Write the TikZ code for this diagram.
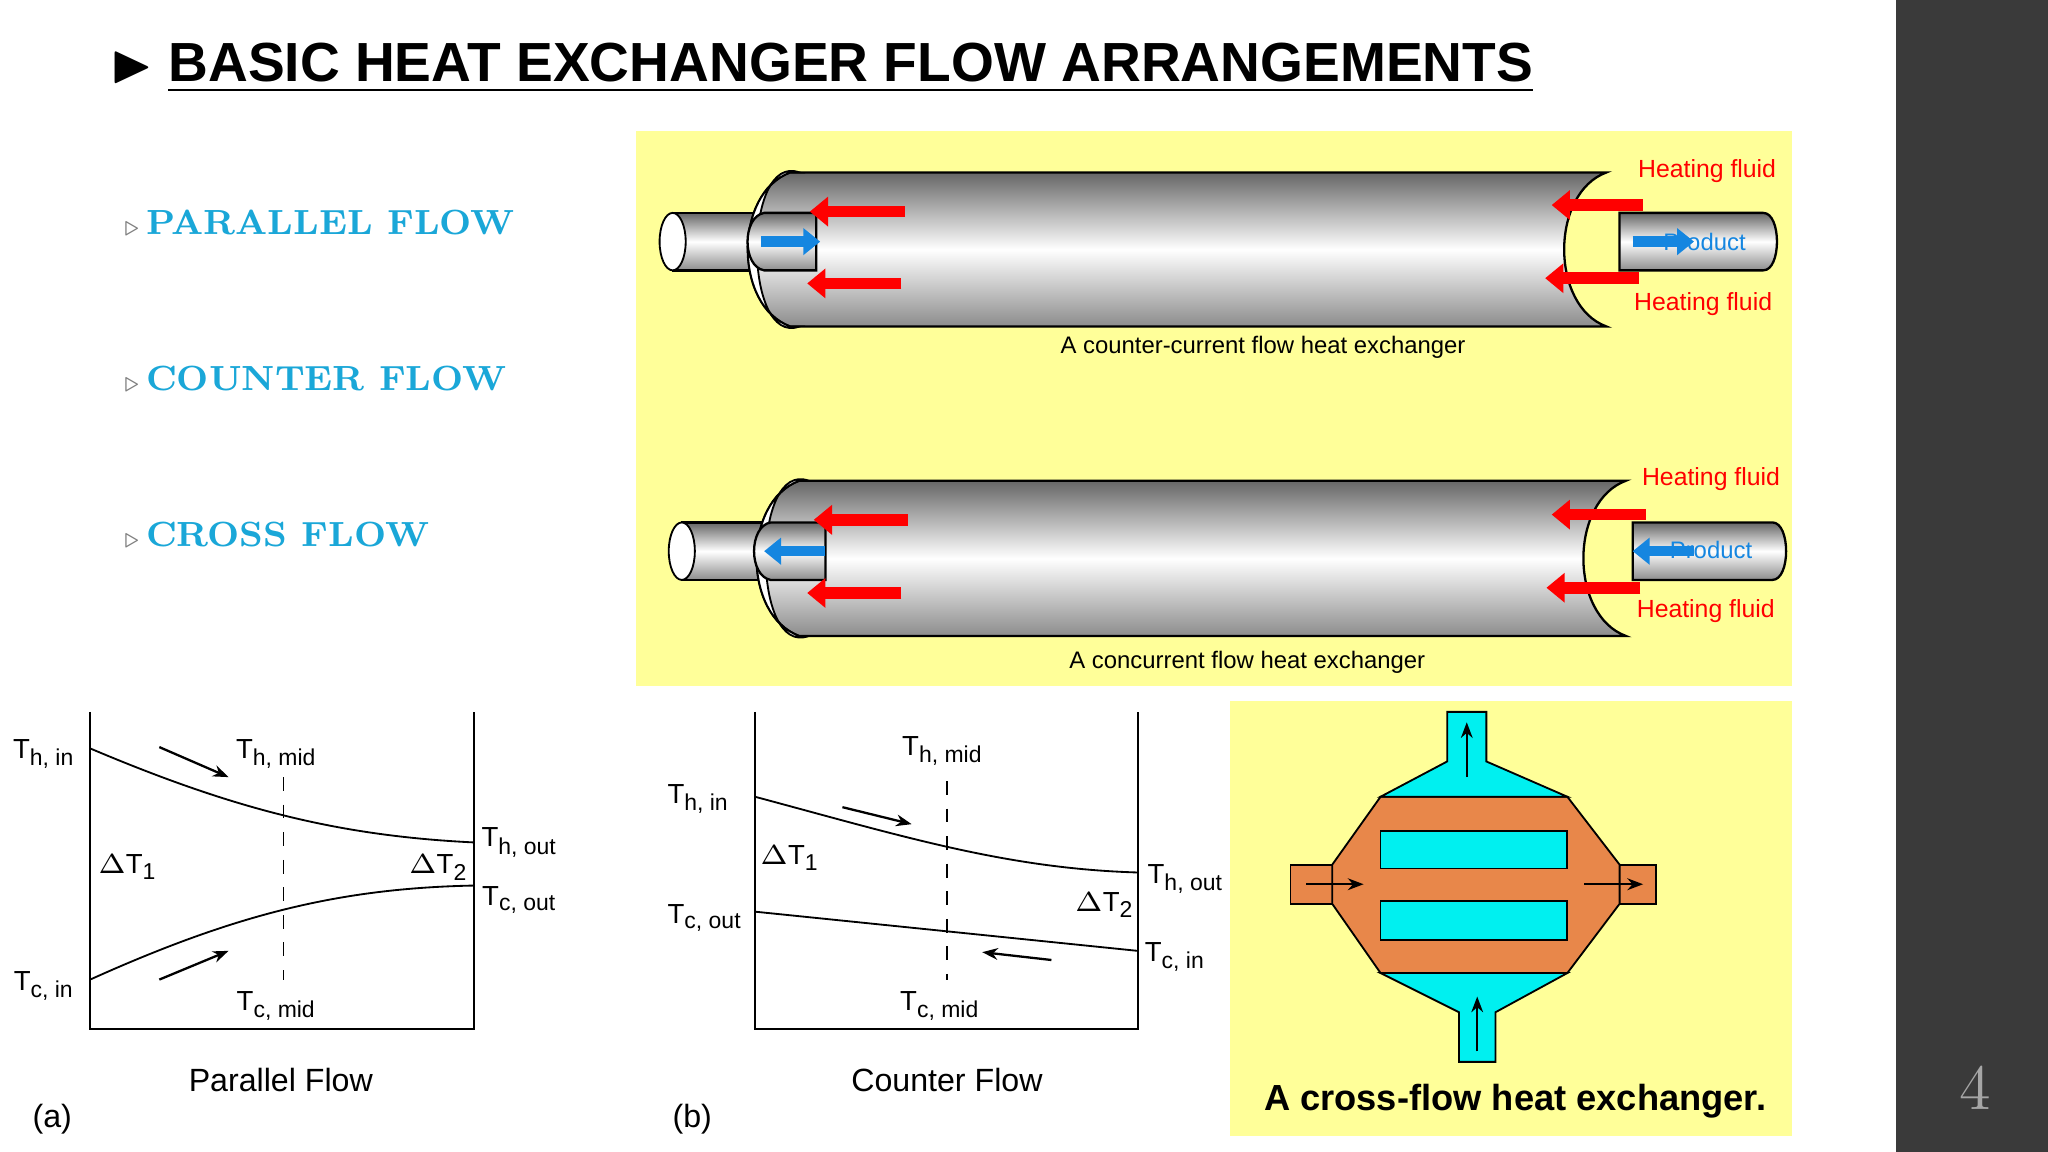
\documentclass[tikz,border=0pt]{standalone}
\usepackage{fontspec}
\usepackage{amssymb}
\newfontfamily\sansf{Liberation Sans}
\usetikzlibrary{arrows.meta}
\definecolor{hexyellow}{HTML}{FFFF99}
\definecolor{flowcyan}{HTML}{1AA7D8}
\definecolor{hexorange}{HTML}{E8874A}
\definecolor{hexcyan}{HTML}{00F0F0}
\definecolor{darkside}{HTML}{3A3A3A}
\tikzset{
  tube/.style={draw=black, line width=0.5pt, top color=black!60, bottom color=black!45, middle color=white},
  hotarrow/.style={red, line width=0.09cm, -{Triangle[width=0.22cm,length=0.14cm]}},
  prodarrow/.style={flowcyan!80!blue, line width=0.08cm, -{Triangle[width=0.2cm,length=0.13cm]}},
  fluidlabel/.style={red, font=\sansf\fontsize{5.4}{6}\selectfont},
  caption/.style={font=\sansf\fontsize{5.2}{6}\selectfont},
  plotlabel/.style={font=\sansf\fontsize{6}{7}\selectfont},
  itemlabel/.style={flowcyan, anchor=west, font=\bfseries\fontsize{7.6}{9}\selectfont},
  smallarrow/.style={-{Stealth[length=0.12cm]}, line width=0.5pt},
}
\begin{document}
\begin{tikzpicture}[x=0.01cm,y=-0.01cm]
\useasboundingbox (0,0) rectangle (1568,882);
\fill[white] (0,0) rectangle (1452,882);
\fill[darkside] (1452,0) rectangle (1568,882);
\node[gray!70, font=\fontsize{14}{16}\selectfont] (pagenum) at (1512,833) {4};
% title
\node[anchor=west, font=\sansf\bfseries\fontsize{12}{13}\selectfont] (title) at (72,52) {\large$\blacktriangleright$\ \underline{BASIC HEAT EXCHANGER FLOW ARRANGEMENTS}};
% items
\node[itemlabel] (parallel) at (82,170) {{\color{gray}\tiny$\triangleright$}\,PARALLEL FLOW};
\node[itemlabel] (counter) at (82,290) {{\color{gray}\tiny$\triangleright$}\,COUNTER FLOW};
\node[itemlabel] (cross) at (82,409) {{\color{gray}\tiny$\triangleright$}\,CROSS FLOW};
% yellow panel
\fill[hexyellow] (487,100) rectangle (1372,525);
% counter-current tube
\draw[tube] (515,163) -- (620,163) -- (620,207) -- (515,207) -- cycle;
\draw[fill=white] (515,185) ellipse [x radius=10, y radius=22];
\draw[tube] (605,132) -- (1230,132) to[out=200,in=160] (1230,250) -- (605,250) to[out=160,in=200] (605,132);
\draw[fill=white] (605,132) to[out=200,in=160] (605,250) -- (612,250) to[out=200,in=160] (612,132) -- cycle;
\draw[tube] (1240,163) -- (1350,163) .. controls (1364,163) and (1364,207) .. (1350,207) -- (1240,207) -- cycle;
\draw[tube] (585,163) -- (625,163) -- (625,207) -- (585,207) to[out=170,in=190] cycle;
\draw[hotarrow] (693,162) -- (620,162);
\draw[hotarrow] (690,217) -- (618,217);
\draw[hotarrow] (1258,157) -- (1188,157);
\draw[hotarrow] (1255,213) -- (1183,213);
\draw[prodarrow] (583,185) -- (628,185);
\node[flowcyan!80!blue, caption] (prod1) at (1305,185) {Product};
\draw[prodarrow] (1250,185) -- (1297,185);
\node[fluidlabel] (hf1) at (1307,131) {Heating fluid};
\node[fluidlabel] (hf2) at (1304,233) {Heating fluid};
\node[caption] (cap1) at (967,266) {A counter-current flow heat exchanger};
% concurrent tube
\draw[tube] (522,400) -- (632,400) -- (632,444) -- (522,444) -- cycle;
\draw[fill=white] (522,422) ellipse [x radius=10, y radius=22];
\draw[tube] (612,368) -- (1245,368) to[out=200,in=160] (1245,487) -- (612,487) to[out=160,in=200] (612,368);
\draw[fill=white] (612,368) to[out=200,in=160] (612,487) -- (619,487) to[out=200,in=160] (619,368) -- cycle;
\draw[tube] (1250,400) -- (1357,400) .. controls (1371,400) and (1371,444) .. (1357,444) -- (1250,444) -- cycle;
\draw[tube] (590,400) -- (632,400) -- (632,444) -- (590,444) to[out=170,in=190] cycle;
\draw[hotarrow] (695,398) -- (623,398);
\draw[hotarrow] (690,454) -- (618,454);
\draw[hotarrow] (1260,394) -- (1188,394);
\draw[hotarrow] (1256,450) -- (1184,450);
\draw[prodarrow] (632,422) -- (585,422);
\node[flowcyan!80!blue, caption] (prod2) at (1310,421) {Product};
\draw[prodarrow] (1297,422) -- (1250,422);
\node[fluidlabel] (hf3) at (1310,367) {Heating fluid};
\node[fluidlabel] (hf4) at (1306,468) {Heating fluid};
\node[caption] (cap2) at (955,507) {A concurrent flow heat exchanger};
% parallel flow plot
\draw (69,545) -- (69,788) -- (363,788) -- (363,545);
\draw (69,573) .. controls (180,620) and (260,640) .. (363,645);
\draw (69,750) .. controls (180,700) and (260,680) .. (363,678);
\draw[dashed] (217,595) -- (217,750);
\draw[smallarrow] (122,572) -- (175,595);
\draw[smallarrow] (122,750) -- (175,728);
\node[plotlabel] (thin) at (34,577) {T\textsubscript{h, in}};
\node[plotlabel] (thmid) at (212,577) {T\textsubscript{h, mid}};
\node[plotlabel] (thout) at (398,645) {T\textsubscript{h, out}};
\node[plotlabel] (tcout) at (398,689) {T\textsubscript{c, out}};
\node[plotlabel] (tcin) at (34,755) {T\textsubscript{c, in}};
\node[plotlabel] (tcmid) at (212,770) {T\textsubscript{c, mid}};
\node[plotlabel] (dta1) at (98,664) {$\Delta$T\textsubscript{1}};
\node[plotlabel] (dta2) at (336,664) {$\Delta$T\textsubscript{2}};
\node[font=\sansf\fontsize{7}{8}\selectfont] (pf) at (215,827) {Parallel Flow};
\node[font=\sansf\fontsize{7}{8}\selectfont] (la) at (40,857) {(a)};
% counter flow plot
\draw (578,545) -- (578,788) -- (871,788) -- (871,545);
\draw (578,610) .. controls (690,640) and (770,665) .. (871,668);
\draw (578,698) -- (871,728);
\draw[dashed] (725,598) -- (725,750);
\draw[smallarrow] (645,618) -- (698,631);
\draw[smallarrow] (805,735) -- (752,729);
\node[plotlabel] (bthin) at (535,612) {T\textsubscript{h, in}};
\node[plotlabel] (bthmid) at (722,575) {T\textsubscript{h, mid}};
\node[plotlabel] (bthout) at (908,673) {T\textsubscript{h, out}};
\node[plotlabel] (btcout) at (540,703) {T\textsubscript{c, out}};
\node[plotlabel] (btcin) at (900,733) {T\textsubscript{c, in}};
\node[plotlabel] (bdt1) at (605,657) {$\Delta$T\textsubscript{1}};
\node[plotlabel] (bdt2) at (846,693) {$\Delta$T\textsubscript{2}};
\node[plotlabel] (btcmid) at (720,770) {T\textsubscript{c, mid}};
\node[font=\sansf\fontsize{7}{8}\selectfont] (cf) at (725,827) {Counter Flow};
\node[font=\sansf\fontsize{7}{8}\selectfont] (lb) at (530,857) {(b)};
% cross flow exchanger
\fill[hexyellow] (942,537) rectangle (1372,870);
\draw[fill=hexorange] (988,662) rectangle (1022,692);
\draw[fill=hexorange] (1238,662) rectangle (1268,692);
\draw[fill=hexorange] (1057,610) -- (1200,610) -- (1240,662) -- (1240,692) -- (1200,745) -- (1057,745) -- (1020,692) -- (1020,662) -- cycle;
\draw[fill=hexcyan] (1108,545) -- (1138,545) -- (1138,583) -- (1200,610) -- (1057,610) -- (1108,583) -- cycle;
\draw[fill=hexcyan] (1057,745) -- (1200,745) -- (1145,775) -- (1145,813) -- (1117,813) -- (1117,775) -- cycle;
\draw[fill=hexcyan] (1057,636) rectangle (1200,665);
\draw[fill=hexcyan] (1057,690) rectangle (1200,720);
\draw[smallarrow] (1123,595) -- (1123,553);
\draw[smallarrow] (1131,805) -- (1131,763);
\draw[smallarrow] (1000,677) -- (1044,677);
\draw[smallarrow] (1213,677) -- (1258,677);
\node[font=\sansf\bfseries\fontsize{7.9}{10}\selectfont] (cap3) at (1160,843) {A cross-flow heat exchanger.};
\end{tikzpicture}
\end{document}
